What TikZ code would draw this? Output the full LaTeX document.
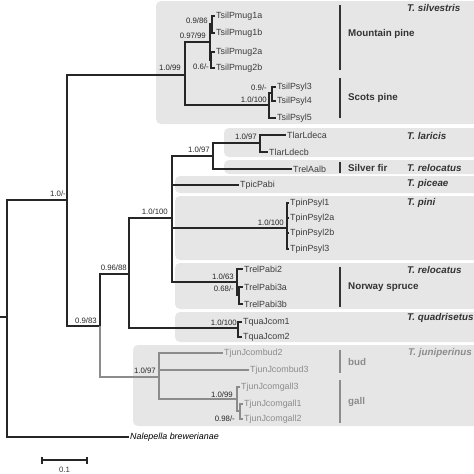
\documentclass[tikz,border=0pt]{standalone}
\usepackage{fontspec}
\setmainfont{Liberation Sans}
\definecolor{boxc}{HTML}{E6E6E6}
\definecolor{linec}{HTML}{262626}
\definecolor{leafc}{HTML}{3C3C3C}
\definecolor{junc}{HTML}{8C8C8C}
\definecolor{grpc}{HTML}{333333}
\begin{document}
\begin{tikzpicture}[x=1pt,y=-1pt,
  tree/.style={draw=linec, line width=1.2pt},
  jtree/.style={draw=junc, line width=1.2pt},
  leaf/.style={font=\fontsize{8.9}{10}\selectfont, text=leafc, inner sep=1pt, anchor=west},
  jleaf/.style={leaf, text=junc},
  supp/.style={font=\fontsize{7.8}{9}\selectfont, text=black!85, inner sep=0pt, anchor=east},
  grp/.style={font=\fontsize{9.8}{11}\selectfont\bfseries, text=grpc, inner sep=0pt, anchor=west},
  taxon/.style={font=\fontsize{9.8}{11}\selectfont\bfseries\itshape, text=grpc, inner sep=0pt, anchor=west},
  gbar/.style={draw=grpc, line width=2.4pt},
  jbar/.style={draw=junc, line width=2.4pt},
  bg/.style={fill=boxc, rounded corners=5pt}]
\useasboundingbox (0,0) rectangle (474,474);
% background boxes
\begin{scope}
\clip (0,0) rectangle (474,474);
\fill[bg] (156,1) rectangle (490,124);
\fill[bg] (224,128) rectangle (490,157);
\fill[bg] (224,160) rectangle (490,174);
\fill[bg] (175,176) rectangle (490,193);
\fill[bg] (175,196) rectangle (490,260);
\fill[bg] (175,263) rectangle (490,309);
\fill[bg] (175,312) rectangle (490,342);
\fill[bg] (133,345) rectangle (490,426);
\end{scope}
% internal nodes
\coordinate (rs) at (0,317);
\coordinate (r) at (7,317);
\coordinate (n1) at (67,200);
\coordinate (nSil) at (185,75);
\coordinate (nMug) at (210,42);
\coordinate (nMug1) at (212,24);
\coordinate (nMug2) at (211,60);
\coordinate (nPsyl) at (269,105);
\coordinate (nPsyl34) at (272,93);
\coordinate (n09) at (100,326);
\coordinate (n096) at (129,274);
\coordinate (nA) at (172,218);
\coordinate (nLA) at (213,156);
\coordinate (nLar) at (260,143);
\coordinate (nPin) at (287,228);
\coordinate (nPabi) at (237,282);
\coordinate (nPabi3) at (239,295);
\coordinate (nQua) at (238,328);
\coordinate (nJun) at (159,377);
\coordinate (nGall) at (237,399);
\coordinate (nGall12) at (240,411);
% leaves
\node[leaf] (Mug1a) at (215,16) {TsilPmug1a};
\node[leaf] (Mug1b) at (215,33) {TsilPmug1b};
\node[leaf] (Mug2a) at (215,52) {TsilPmug2a};
\node[leaf] (Mug2b) at (215,68) {TsilPmug2b};
\node[leaf] (Psyl3) at (276,87) {TsilPsyl3};
\node[leaf] (Psyl4) at (276,101) {TsilPsyl4};
\node[leaf] (Psyl5) at (276,118) {TsilPsyl5};
\node[leaf] (Ldeca) at (286,135) {TlarLdeca};
\node[leaf] (Ldecb) at (268,152) {TlarLdecb};
\node[leaf] (Aalb) at (292,169) {TrelAalb};
\node[leaf] (Picea) at (239,185) {TpicPabi};
\node[leaf] (Pin1) at (289,203) {TpinPsyl1};
\node[leaf] (Pin2a) at (289,218) {TpinPsyl2a};
\node[leaf] (Pin2b) at (289,233) {TpinPsyl2b};
\node[leaf] (Pin3) at (289,249) {TpinPsyl3};
\node[leaf] (Pabi2) at (243,269) {TrelPabi2};
\node[leaf] (Pabi3a) at (243,287) {TrelPabi3a};
\node[leaf] (Pabi3b) at (243,304) {TrelPabi3b};
\node[leaf] (Qua1) at (242,322) {TquaJcom1};
\node[leaf] (Qua2) at (242,337) {TquaJcom2};
\node[jleaf] (Bud2) at (223,353) {TjunJcombud2};
\node[jleaf] (Bud3) at (249,370) {TjunJcombud3};
\node[jleaf] (Gall3) at (240,387) {TjunJcomgall3};
\node[jleaf] (Gall1) at (243,404) {TjunJcomgall1};
\node[jleaf] (Gall2) at (243,419) {TjunJcomgall2};
\node[leaf, text=black, font=\fontsize{8.9}{10}\selectfont\itshape] (Nal) at (129,437) {Nalepella brewerianae};
% branches
\draw[tree] (rs) -- (r);
\draw[tree] (r) |- (n1);
\draw[tree] (r) |- (Nal.west);
\draw[tree] (n1) |- (nSil);
\draw[tree] (n1) |- (n09);
\draw[tree] (nSil) |- (nMug);
\draw[tree] (nSil) |- (nPsyl);
\draw[tree] (nMug) |- (nMug1);
\draw[tree] (nMug) |- (nMug2);
\draw[tree] (nMug1) |- (Mug1a.west);
\draw[tree] (nMug1) |- (Mug1b.west);
\draw[tree] (nMug2) |- (Mug2a.west);
\draw[tree] (nMug2) |- (Mug2b.west);
\draw[tree] (nPsyl) |- (nPsyl34);
\draw[tree] (nPsyl34) |- (Psyl3.west);
\draw[tree] (nPsyl34) |- (Psyl4.west);
\draw[tree] (nPsyl) |- (Psyl5.west);
\draw[tree] (n09) |- (n096);
\draw[tree] (n096) |- (nA);
\draw[tree] (n096) |- (nQua);
\draw[tree] (nA) |- (nLA);
\draw[tree] (nLA) |- (nLar);
\draw[tree] (nLar) |- (Ldeca.west);
\draw[tree] (nLar) |- (Ldecb.west);
\draw[tree] (nLA) |- (Aalb.west);
\draw[tree] (nA) |- (Picea.west);
\draw[tree] (nA) |- (nPin);
\draw[tree] (nPin) |- (Pin1.west);
\draw[tree] (nPin) |- (Pin2a.west);
\draw[tree] (nPin) |- (Pin2b.west);
\draw[tree] (nPin) |- (Pin3.west);
\draw[tree] (nA) |- (nPabi);
\draw[tree] (nPabi) |- (Pabi2.west);
\draw[tree] (nPabi) |- (nPabi3);
\draw[tree] (nPabi3) |- (Pabi3a.west);
\draw[tree] (nPabi3) |- (Pabi3b.west);
\draw[tree] (nQua) |- (Qua1.west);
\draw[tree] (nQua) |- (Qua2.west);
\draw[jtree] (n09) |- (nJun);
\draw[jtree] (nJun) |- (Bud2.west);
\draw[jtree] (nJun) |- (Bud3.west);
\draw[jtree] (nJun) |- (nGall);
\draw[jtree] (nGall) |- (Gall3.west);
\draw[jtree] (nGall) |- (nGall12);
\draw[jtree] (nGall12) |- (Gall1.west);
\draw[jtree] (nGall12) |- (Gall2.west);
% support values
\node[supp] (s1) at (66,194) {1.0/-};
\node[supp] (s2) at (181,68) {1.0/99};
\node[supp] (s3) at (206,36) {0.97/99};
\node[supp] (s4) at (208,21) {0.9/86};
\node[supp] (s5) at (209,67) {0.6/-};
\node[supp] (s6) at (267,88) {0.9/-};
\node[supp] (s7) at (267,100) {1.0/100};
\node[supp] (s8) at (257,137) {1.0/97};
\node[supp] (s9) at (210,150) {1.0/97};
\node[supp] (s10) at (168,212) {1.0/100};
\node[supp] (s11) at (284,223) {1.0/100};
\node[supp] (s12) at (234,277) {1.0/63};
\node[supp] (s13) at (234,289) {0.68/-};
\node[supp] (s14) at (237,323) {1.0/100};
\node[supp] (s15) at (127,268) {0.96/88};
\node[supp] (s16) at (97,321) {0.9/83};
\node[supp] (s17) at (156,371) {1.0/97};
\node[supp] (s18) at (233,395) {1.0/99};
\node[supp] (s19) at (235,419) {0.98/-};
% group bars and labels
\draw[gbar] (340,5) -- (340,70);
\draw[gbar] (340,78) -- (340,118);
\draw[gbar] (340,162) -- (340,173);
\draw[gbar] (340,267) -- (340,307);
\draw[jbar] (340,350) -- (340,373);
\draw[jbar] (340,380) -- (340,423);
\node[grp] (gMp) at (348,34) {Mountain pine};
\node[grp] (gSp) at (348,98) {Scots pine};
\node[grp] (gSf) at (348,168) {Silver fir};
\node[grp] (gNs) at (348,287) {Norway spruce};
\node[grp, text=junc] (gBud) at (348,362) {bud};
\node[grp, text=junc] (gGall) at (348,402) {gall};
\node[taxon] (tSil) at (407,8) {T. silvestris};
\node[taxon] (tLar) at (407,136) {T. laricis};
\node[taxon] (tRel1) at (407,168) {T. relocatus};
\node[taxon] (tPic) at (407,184) {T. piceae};
\node[taxon] (tPin) at (407,203) {T. pini};
\node[taxon] (tRel2) at (407,270) {T. relocatus};
\node[taxon] (tQua) at (407,318) {T. quadrisetus};
\node[taxon, text=junc] (tJun) at (408,353) {T. juniperinus};
% scale bar
\coordinate (sbA) at (42,460);
\coordinate (sbB) at (87,460);
\draw[draw=linec, line width=1.1pt] (sbA) -- (sbB);
\draw[draw=linec, line width=1.1pt] ([yshift=-3.5pt]sbA) -- ([yshift=3.5pt]sbA);
\draw[draw=linec, line width=1.1pt] ([yshift=-3.5pt]sbB) -- ([yshift=3.5pt]sbB);
\node[font=\fontsize{7.8}{9}\selectfont, text=leafc, inner sep=0pt] (sbL) at (64.5,470) {0.1};
\end{tikzpicture}
\end{document}
